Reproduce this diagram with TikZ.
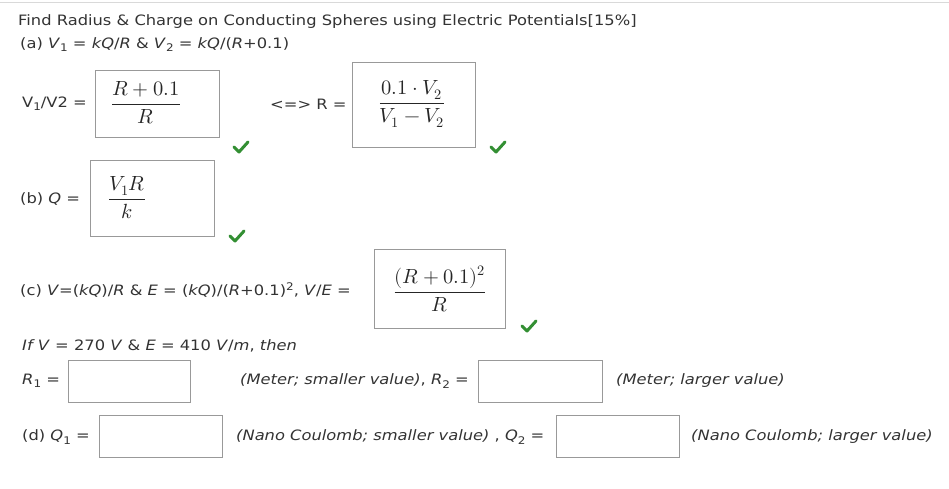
\documentclass[tikz,border=0pt]{standalone}
\usepackage{fontspec}
\setmainfont{DejaVu Sans}[FakeStretch=1.14]
\usepackage{unicode-math}
\setmathfont{Latin Modern Math}
\newcommand\sbx[1]{\raisebox{-0.4ex}{\fontsize{10.5}{11}\selectfont #1}}
\newcommand\spx[1]{\raisebox{0.7ex}{\fontsize{10.5}{11}\selectfont #1}}
\begin{document}
\begin{tikzpicture}[x=1pt,y=-1pt,
  txt/.style={anchor=west,inner sep=0pt,font=\fontsize{14.3}{16}\selectfont,text=black!80},
  inbox/.style={draw=black!40,line width=0.8pt,fill=white},
  mth/.style={inner sep=0pt,font=\fontsize{20.5}{22}\selectfont,text=black!85},
  chk/.style={draw=green!45!black!80!white,line width=3pt,line cap=round,line join=round}]
\useasboundingbox (0,0) rectangle (949,488);
\fill[white] (0,0) rectangle (949,488);
\draw[black!15] (0,2) -- (949,2);
\newcommand\ck[2]{\draw[chk] (#1-6,#2) -- (#1-1,#2+5) -- (#1+8,#2-5);}
\node[txt] (t) at (18,22) {Find Radius \& Charge on Conducting Spheres using Electric Potentials[15\%]};
\node[txt] (a) at (20,45) {(a) \textit{V}\sbx{1} = \textit{kQ}/\textit{R} \& \textit{V}\sbx{2} = \textit{kQ}/(\textit{R}+0.1)};
\node[txt] (l1) at (22,104) {V\sbx{1}/V2 =};
\draw[inbox] (95,70) rectangle (219,137);
\node[mth] (f1) at (146,103) {$\dfrac{R+0.1}{R}$};
\node[txt] (l2) at (270,104) {<=> R =};
\draw[inbox] (352,62) rectangle (475,147);
\node[mth] (f2) at (412,104) {$\dfrac{0.1\cdot V_2}{V_1-V_2}$};
\ck{240}{147}\ck{497}{147}
\node[txt] (b) at (20,199) {(b) \textit{Q} =};
\draw[inbox] (90,160) rectangle (214,236);
\node[mth] (f3) at (127,198) {$\dfrac{V_1R}{k}$};
\ck{236}{236}
\node[txt] (c) at (20,290) {(c) \textit{V}=(\textit{kQ})/\textit{R} \& \textit{E} = (\textit{kQ})/(\textit{R}+0.1)\spx{2}, \textit{V}/\textit{E} =};
\draw[inbox] (374,249) rectangle (505,328);
\node[mth] (f4) at (440,289) {$\dfrac{(R+0.1)^2}{R}$};
\ck{528}{326}
\node[txt] (d0) at (22,346) {\textit{If V} = 270 \textit{V} \& \textit{E} = 410 \textit{V}/\textit{m}, \textit{then}};
\node[txt] (r1) at (22,381) {\textit{R}\sbx{1} =};
\draw[inbox] (68,360) rectangle (190,402);
\node[txt] (r2) at (240,381) {\textit{(Meter; smaller value)}, \textit{R}\sbx{2} =};
\draw[inbox] (478,360) rectangle (602,402);
\node[txt] (r3) at (616,381) {\textit{(Meter; larger value)}};
\node[txt] (q1) at (22,437) {(d) \textit{Q}\sbx{1} =};
\draw[inbox] (99,415) rectangle (222,457);
\node[txt] (q2) at (236,437) {\textit{(Nano Coulomb; smaller value)} , \textit{Q}\sbx{2} =};
\draw[inbox] (556,415) rectangle (679,457);
\node[txt] (q3) at (691,437) {\textit{(Nano Coulomb; larger value)}};
\end{tikzpicture}
\end{document}
